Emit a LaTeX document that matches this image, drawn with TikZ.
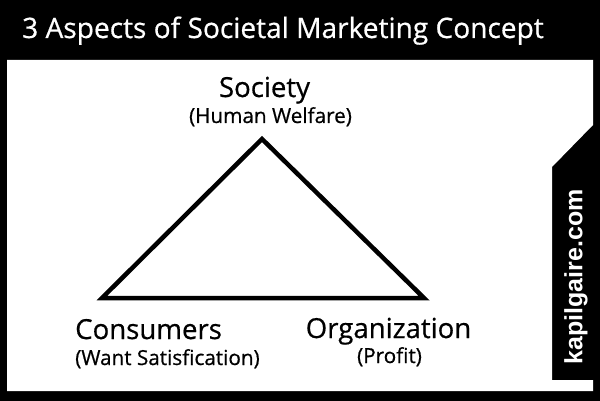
\documentclass[tikz,border=0pt]{standalone}
\usepackage{fontspec}
\setmainfont{Open Sans}[FakeBold=0.6]
\newfontfamily\wmfont{Liberation Sans}
\begin{document}
\begin{tikzpicture}[x=1pt,y=-1pt,
  lbl/.style={inner sep=0pt, font=\fontsize{27.6}{30}\selectfont},
  sub/.style={inner sep=0pt, font=\fontsize{20.7}{23}\selectfont},
  edge/.style={line width=4.5pt, line join=miter, line cap=round}]
\useasboundingbox (0,0) rectangle (600,401);
\fill[black] (0,0) rectangle (600,401);
\fill[white] (7,60) -- (593,60) -- (593,125) -- (552,167) -- (552,380) -- (593,380) -- (593,391) -- (7,391) -- cycle;
\node[inner sep=0pt, anchor=base west, text=white, font=\fontsize{28.1}{31}\selectfont] (title) at (22,38) {3 Aspects of Societal Marketing Concept};
% vertices
\coordinate (top) at (262,139);
\coordinate (left) at (102,298);
\coordinate (right) at (424,298);
\draw[edge] (top) -- (left) -- (right) -- cycle;
% labels
\node[lbl, anchor=base] (soc) at (264.5,97) {Society};
\node[sub, anchor=base] (socs) at (270.5,123) {(Human Welfare)};
\node[lbl, anchor=base west] (con) at (75,339) {Consumers};
\node[sub, anchor=base west] (cons) at (75,365) {(Want Satisfication)};
\node[lbl, anchor=base] (org) at (388.5,338) {Organization};
\node[sub, anchor=base] (orgs) at (389.5,363) {(Profit)};
\node[inner sep=0pt, rotate=90, text=white, font=\wmfont\bfseries\fontsize{25}{28}\selectfont] (wm) at (576,277) {kapilgaire.com};
\end{tikzpicture}
\end{document}
